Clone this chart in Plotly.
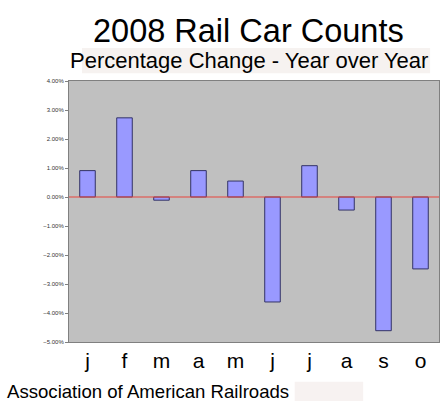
import plotly.graph_objects as go

# monthly year-over-year change in rail car counts, 2008
months = ["j", "f", "m", "a", "m", "j", "j", "a", "s", "o"]
pct_change = [0.0091, 0.0273, -0.0011, 0.0091, 0.0055, -0.0362, 0.0108, -0.0045, -0.0461, -0.0248]

FONT = "Liberation Sans, Arial, sans-serif"
x_pos = list(range(len(months)))

fig = go.Figure()

fig.add_trace(go.Bar(
    x=x_pos, y=pct_change,
    marker_color="#9999ff",
    marker_line_color="#333366",
    marker_line_width=1,
    width=0.42,
    showlegend=False,
    hoverinfo="y",
))

# red line at zero
fig.add_shape(type="line", xref="paper", x0=0, x1=1, yref="y", y0=0, y1=0,
              line=dict(color="#e8453c", width=1), layer="above")

# light boxes behind the subtitle and after the footer
fig.add_shape(type="rect", xref="paper", yref="paper", x0=0.035, x1=0.976, y0=1.03, y1=1.126,
              fillcolor="#f6f2f0", line_width=0, layer="below")
fig.add_shape(type="rect", xref="paper", yref="paper", x0=0.61, x1=0.795, y0=-0.226, y1=-0.152,
              fillcolor="#f7f2f1", line_width=0, layer="below")

fig.add_annotation(text="2008 Rail Car Counts", xref="paper", yref="paper",
                   x=0.485, y=1.19, xanchor="center", yanchor="middle", showarrow=False,
                   font=dict(family=FONT, size=32.5, color="black"))
fig.add_annotation(text="Percentage Change - Year over Year", xref="paper", yref="paper",
                   x=0.486, y=1.078, xanchor="center", yanchor="middle", showarrow=False,
                   font=dict(family=FONT, size=22, color="black"))
fig.add_annotation(text="Association of American Railroads", xref="paper", yref="paper",
                   x=-0.174, y=-0.19, xanchor="left", yanchor="middle", showarrow=False,
                   font=dict(family=FONT, size=18.6, color="black"))

fig.update_xaxes(
    tickmode="array", tickvals=x_pos, ticktext=months,
    range=[-0.5, len(months) - 0.5],
    tickfont=dict(family=FONT, size=21, color="black"),
    showgrid=False, zeroline=False,
    showline=True, linecolor="#808080", linewidth=1, mirror=True,
    ticks="",
)
fig.update_yaxes(
    range=[-0.05, 0.04], dtick=0.01, tickformat=".2%",
    tickfont=dict(family=FONT, size=6, color="#333333"),
    showgrid=False, zeroline=False,
    showline=True, linecolor="#808080", linewidth=1, mirror=True,
    ticks="outside", ticklen=3, tickcolor="#808080",
)

fig.update_layout(
    width=441, height=406,
    margin=dict(l=69, r=2, t=81, b=64),
    plot_bgcolor="#c0c0c0",
    paper_bgcolor="white",
    bargap=0.58,
    font=dict(family=FONT),
)

fig.write_html("out.html", config={"displayModeBar": False},
               post_script="document.body.style.margin='0';")
